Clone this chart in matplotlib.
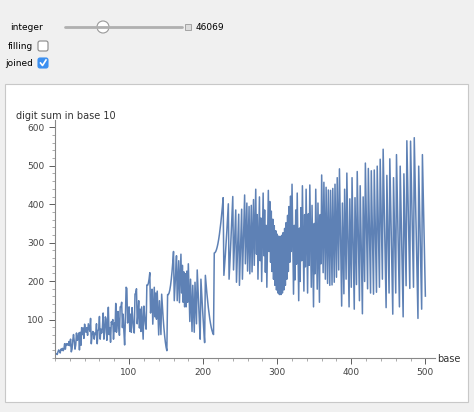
import matplotlib
matplotlib.use("Agg")
import matplotlib.pyplot as plt
from matplotlib.patches import Rectangle, FancyBboxPatch, Circle

integer_value = 46069
bases = list(range(2, 501))
def digit_sum(n, b):
    s = 0
    while n:
        s += n % b
        n //= b
    return s
digit_sums = [digit_sum(integer_value, b) for b in bases]

W, H = 474, 412
fig = plt.figure(figsize=(W/100, H/100), dpi=100)
fig.patch.set_facecolor("#f0f0f0")
bg = fig.add_axes([0, 0, 1, 1]); bg.set_xlim(0, W); bg.set_ylim(H, 0); bg.axis("off")
bg.add_patch(Rectangle((5, 84), 463, 318, facecolor="white", edgecolor="#c8c8c8", lw=0.8))
bg.text(10, 27, "integer", fontsize=6.5, va="center")
bg.plot([65, 182], [27, 27], color="#b0b0b0", lw=2, solid_capstyle="round")
bg.add_patch(Circle((103, 27), 6, facecolor="white", edgecolor="#999999", lw=0.8))
bg.add_patch(Rectangle((185, 24), 6, 6, facecolor="#dddddd", edgecolor="#999999", lw=0.6))
bg.text(196, 27, "46069", fontsize=6.5, va="center")
bg.text(33, 46, "filling", fontsize=6.5, va="center", ha="right")
bg.add_patch(FancyBboxPatch((38, 41), 10, 10, boxstyle="round,pad=0,rounding_size=2", facecolor="white", edgecolor="#888888", lw=0.8))
bg.text(33, 63, "joined", fontsize=6.5, va="center", ha="right")
bg.add_patch(FancyBboxPatch((38, 58), 10, 10, boxstyle="round,pad=0,rounding_size=2", facecolor="#3b8ff0", edgecolor="#3b8ff0", lw=0.8))
bg.plot([40.5, 42.5, 46], [63, 65.5, 60], color="white", lw=1.2)

ax = fig.add_axes([55/W, 1-358/H, (435-55)/W, (358-120)/H])
ax.plot(bases, digit_sums, color="#5e81b5", lw=1.1)
ax.set_xlim(0, 513)
ax.set_ylim(0, 619)
ax.set_xticks([100, 200, 300, 400, 500])
ax.set_yticks([100, 200, 300, 400, 500, 600])
ax.set_xticks(range(0, 501, 20), minor=True)
ax.set_yticks(range(0, 601, 20), minor=True)
for s in ["top", "right"]:
    ax.spines[s].set_visible(False)
for s in ["left", "bottom"]:
    ax.spines[s].set_color("#888888")
ax.tick_params(labelsize=6.5, colors="#444444", length=4, width=0.6)
ax.tick_params(which="minor", length=2, width=0.5, colors="#888888")
ax.set_facecolor("none")
bg.text(16, 116, "digit sum in base 10", fontsize=7, color="#333333", va="center")
bg.text(437, 359, "base", fontsize=7, color="#333333", va="center")
fig.savefig("out.png", dpi=100, facecolor=fig.get_facecolor())
